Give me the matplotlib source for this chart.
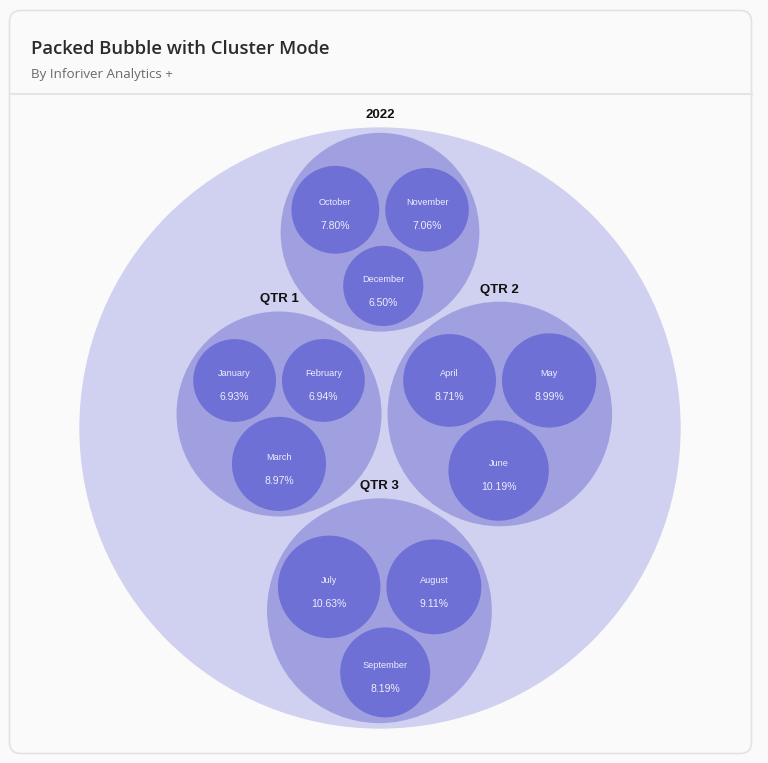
import numpy as np
import matplotlib
matplotlib.use("Agg")
import matplotlib.pyplot as plt
from matplotlib.patches import Circle, FancyBboxPatch

# ---- data ----
year_label = "2022"
quarters = ["QTR 1", "QTR 2", "QTR 3", "QTR 4"]
q1_months = ["January", "February", "March"]
q1_values = [6.93, 6.94, 8.97]
q2_months = ["April", "May", "June"]
q2_values = [8.71, 8.99, 10.19]
q3_months = ["July", "August", "September"]
q3_values = [10.63, 9.11, 8.19]
q4_months = ["October", "November", "December"]
q4_values = [7.80, 7.06, 6.50]

month_groups = [q1_months, q2_months, q3_months, q4_months]
value_groups = [q1_values, q2_values, q3_values, q4_values]

# ---- layout / style ----
W, H = 768, 763
PX_PER_SQRT = 15.72     # bubble radius = PX_PER_SQRT * sqrt(value)
GAP = 6.0               # space between sibling bubbles
PAD = 5.5               # space between children and their parent bubble
CENTER = np.array([380.0, 428.0])

OUTER_COLOR = "#d0d0f1"
CLUSTER_COLOR = "#a0a0e1"
MONTH_COLOR = "#6f70d6"
TEXT_LIGHT = "#eeeefb"


def enclose(centers, radii):
    # smallest circle holding all circles (pattern search, it's convex)
    pts = np.array(centers, float)
    rr = np.array(radii, float)

    def f(c):
        return np.max(np.hypot(*(pts - c).T) + rr)

    c = pts.mean(axis=0)
    best = f(c)
    ang = np.linspace(0, 2 * np.pi, 48, endpoint=False)
    dirs = np.column_stack([np.cos(ang), np.sin(ang)])
    step = 50.0
    while step > 1e-3:
        moved = False
        for d in dirs:
            trial = c + step * d
            v = f(trial)
            if v < best - 1e-12:
                c, best, moved = trial, v, True
                break
        if not moved:
            step /= 2
    return c, best


def tangent_to_pair(c1, r1, c2, r2, r, side):
    # circle of radius r touching both (with GAP); side=+1 below, -1 above
    d1 = r1 + r + GAP
    d2 = r2 + r + GAP
    D = np.hypot(*(c2 - c1))
    u = (c2 - c1) / D
    perp = np.array([-u[1], u[0]])
    a = (d1 ** 2 - d2 ** 2 + D ** 2) / (2 * D)
    h = np.sqrt(max(d1 ** 2 - a ** 2, 0))
    return c1 + a * u + side * h * perp


def pack(radii):
    # first two side by side, third below, fourth above
    c = [np.array([0.0, 0.0]), np.array([radii[0] + radii[1] + GAP, 0.0])]
    if len(radii) > 2:
        c.append(tangent_to_pair(c[0], radii[0], c[1], radii[1], radii[2], +1))
    if len(radii) > 3:
        c.append(tangent_to_pair(c[0], radii[0], c[1], radii[1], radii[3], -1))
    mid, R = enclose(c, radii)
    return [p - mid for p in c], R + PAD


# pack months in each quarter, then quarters in the year
month_radii = [[PX_PER_SQRT * np.sqrt(v) for v in vals] for vals in value_groups]
inner = [pack(r) for r in month_radii]
cluster_radii = [R for _, R in inner]
cluster_pos, year_R = pack(cluster_radii)

fig = plt.figure(figsize=(W / 100, H / 100), dpi=100)
fig.patch.set_facecolor("#fafafa")
ax = fig.add_axes([0, 0, 1, 1])
ax.set_xlim(0, W)
ax.set_ylim(H, 0)
ax.axis("off")

# card
card = FancyBboxPatch((9.5, 10.5), 742, 743, boxstyle="round,pad=0,rounding_size=11",
                      facecolor="#fafafa", edgecolor="#e2e2e2", linewidth=1.2, zorder=0)
ax.add_patch(card)
ax.plot([9.5, 751.5], [93.5, 93.5], color="#e4e4e4", lw=1.5, zorder=1)

ax.text(31, 54.3, "Packed Bubble with Cluster Mode", fontsize=13.3, fontweight="semibold",
        family=["Open Sans", "DejaVu Sans"], color="#2b2b2b", va="baseline", ha="left")
ax.text(31, 77.7, "By Inforiver Analytics +", fontsize=9.6,
        family=["Open Sans", "DejaVu Sans"], color="#6a6a6a", va="baseline", ha="left")

lbl_font = ["Liberation Sans", "DejaVu Sans"]

# year bubble
ax.add_patch(Circle(CENTER, year_R, facecolor=OUTER_COLOR, edgecolor="none", zorder=2))
placed = [(CENTER[0], CENTER[1] - year_R - 9)]
ax.text(placed[0][0], placed[0][1], year_label, fontsize=9.5, fontweight="bold",
        family=lbl_font, color="#111111", ha="center", va="baseline", zorder=6)

for qname, qpos, qR, (mpos, _), months, vals, radii in zip(
        quarters, cluster_pos, cluster_radii, inner, month_groups, value_groups, month_radii):
    qc = CENTER + qpos
    ax.add_patch(Circle(qc, qR, facecolor=CLUSTER_COLOR, edgecolor="none", zorder=3))

    # quarter label above its bubble, dropped if it would collide with another label
    lx, ly = qc[0], qc[1] - qR - 9
    if all(abs(lx - px) > 50 or abs(ly - py) > 16 for px, py in placed):
        placed.append((lx, ly))
        ax.text(lx, ly, qname, fontsize=9.5, fontweight="bold", family=lbl_font,
                color="#111111", ha="center", va="baseline", zorder=6)

    for p, r, m, v in zip(mpos, radii, months, vals):
        mc = qc + p
        ax.add_patch(Circle(mc, r, facecolor=MONTH_COLOR, edgecolor="none", zorder=4))
        ax.text(mc[0], mc[1] - 4.3, m, fontsize=6.6, family=lbl_font, color=TEXT_LIGHT,
                ha="center", va="baseline", zorder=5)
        ax.text(mc[0], mc[1] + 19.7, f"{v:.2f}%", fontsize=7.5, family=lbl_font,
                color=TEXT_LIGHT, ha="center", va="baseline", zorder=5)

fig.savefig("out.png", dpi=100, facecolor=fig.get_facecolor())
